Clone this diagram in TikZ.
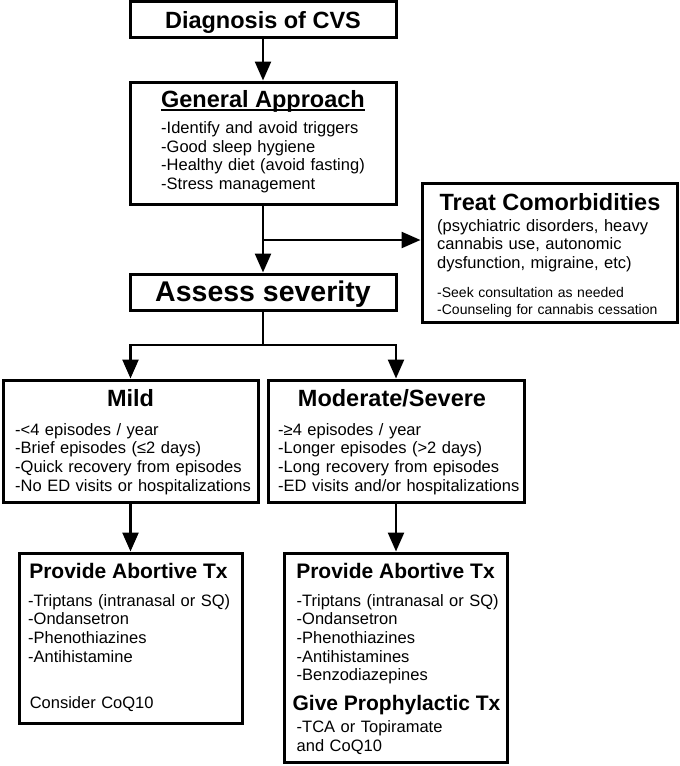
\documentclass[tikz,border=0pt]{standalone}
\usepackage{fontspec}
\setsansfont{Liberation Sans}
\usepackage{tikz}
\usetikzlibrary{arrows.meta, positioning}

\begin{document}
\begin{tikzpicture}[font=\sffamily, x=1pt, y=-1pt]
        % Setup the styles for the boxes, the texts and the arrows
        \tikzset{box style/.style={rectangle,
                                   draw,
                                   line width=3pt,
                                   inner sep=0pt},
                 head style/.style={anchor=base,
                                    inner sep=0pt,
                                    font=\sffamily\bfseries\fontsize{23.5}{26}\selectfont},
                 big head style/.style={head style,
                                        font=\sffamily\bfseries\fontsize{28.5}{32}\selectfont},
                 tx head style/.style={head style,
                                       font=\sffamily\bfseries\fontsize{21}{24}\selectfont},
                 list style/.style={anchor=base west,
                                    inner sep=0pt,
                                    text width=300pt,
                                    align=left,
                                    font=\sffamily\fontsize{16.5}{18.7}\selectfont},
                 note style/.style={list style,
                                    font=\sffamily\fontsize{14}{16.3}\selectfont},
                 arrow style/.style={line width=2.5pt,
                                     -{Triangle[width=16pt, length=19pt]}}}

        \useasboundingbox (0, 0) rectangle (680, 766);

        % Draw the boxes
        \node[box style, minimum width=266pt, minimum height=35.5pt] at (263, 19.25) (diagnosis) {};
        \node[box style, minimum width=266pt, minimum height=122pt]  at (263, 143)   (approach) {};
        \node[box style, minimum width=255pt, minimum height=139pt]  at (549.5, 252.5) (comorbid) {};
        \node[box style, minimum width=266pt, minimum height=36pt]   at (263, 292)   (assess) {};
        \node[box style, minimum width=255pt, minimum height=122pt]  at (130.5, 441) (mild) {};
        \node[box style, minimum width=256pt, minimum height=122pt]  at (396, 441)   (severe) {};
        \node[box style, minimum width=223pt, minimum height=170pt]  at (130.5, 638) (abortmild) {};
        \node[box style, minimum width=223pt, minimum height=209pt]  at (396, 657.5) (abortsevere) {};

        % Write the texts
        \node[head style] at (263, 28.3)  (diagnosishead) {Diagnosis of CVS};
        \node[head style] at (263, 107.5) (approachhead)  {General Approach};
        \node[list style] at (161, 133.3) (approachlist)  {-Identify and avoid triggers\\-Good sleep hygiene\\-Healthy diet (avoid fasting)\\-Stress management};
        \node[head style] at (550, 210)   (comorbidhead)  {Treat Comorbidities};
        \node[list style] at (437, 231)   (comorbidlist)  {(psychiatric disorders, heavy\\cannabis use, autonomic\\dysfunction, migraine, etc)};
        \node[note style] at (437, 297.7) (comorbidnote)  {-Seek consultation as needed\\-Counseling for cannabis cessation};
        \node[big head style] at (263, 301.7) (assesshead) {Assess severity};
        \node[head style] at (130.5, 406.7) (mildhead)   {Mild};
        \node[list style] at (15, 435)      (mildlist)   {-<4 episodes / year\\-Brief episodes (≤2 days)\\-Quick recovery from episodes\\-No ED visits or hospitalizations};
        \node[head style] at (392, 406.7)   (severehead) {Moderate/Severe};
        \node[list style] at (278, 435)     (severelist) {-≥4 episodes / year\\-Longer episodes (>2 days)\\-Long recovery from episodes\\-ED visits and/or hospitalizations};
        \node[tx head style] at (128.5, 578.3) (abortmildhead) {Provide Abortive Tx};
        \node[list style] at (28, 606)         (abortmildlist) {-Triptans (intranasal or SQ)\\-Ondansetron\\-Phenothiazines\\-Antihistamine};
        \node[list style] at (29.6, 708.3)     (coqmild)       {Consider CoQ10};
        \node[tx head style] at (395.5, 578.3) (abortseverehead) {Provide Abortive Tx};
        \node[list style] at (296.5, 606)      (abortseverelist) {-Triptans (intranasal or SQ)\\-Ondansetron\\-Phenothiazines\\-Antihistamines\\-Benzodiazepines};
        \node[tx head style] at (396.5, 710)   (prophylhead)   {Give Prophylactic Tx};
        \node[list style, font=\sffamily\fontsize{16.5}{19}\selectfont] at (296.5, 732.7) (prophyllist) {-TCA or Topiramate\\and CoQ10};

        % Underline the approach heading
        \draw[line width=1.5pt] ([yshift=-2.5pt]approachhead.base west) -- ([yshift=-2.5pt]approachhead.base east);

        % Connect the boxes with arrows
        \coordinate (split) at (263, 240);
        \coordinate (fork)  at (263, 345);
        \draw[arrow style] (diagnosis) -- (approach);
        \draw[arrow style] (approach) -- (assess);
        \draw[arrow style] (split) -- (split -| comorbid.west);
        \draw[line width=2.5pt] (assess) -- (fork);
        \draw[arrow style] (fork) -| (mild);
        \draw[arrow style] (fork) -| (severe);
        \draw[arrow style] (mild) -- (abortmild);
        \draw[arrow style] (severe) -- (abortsevere);
\end{tikzpicture}
\end{document}
